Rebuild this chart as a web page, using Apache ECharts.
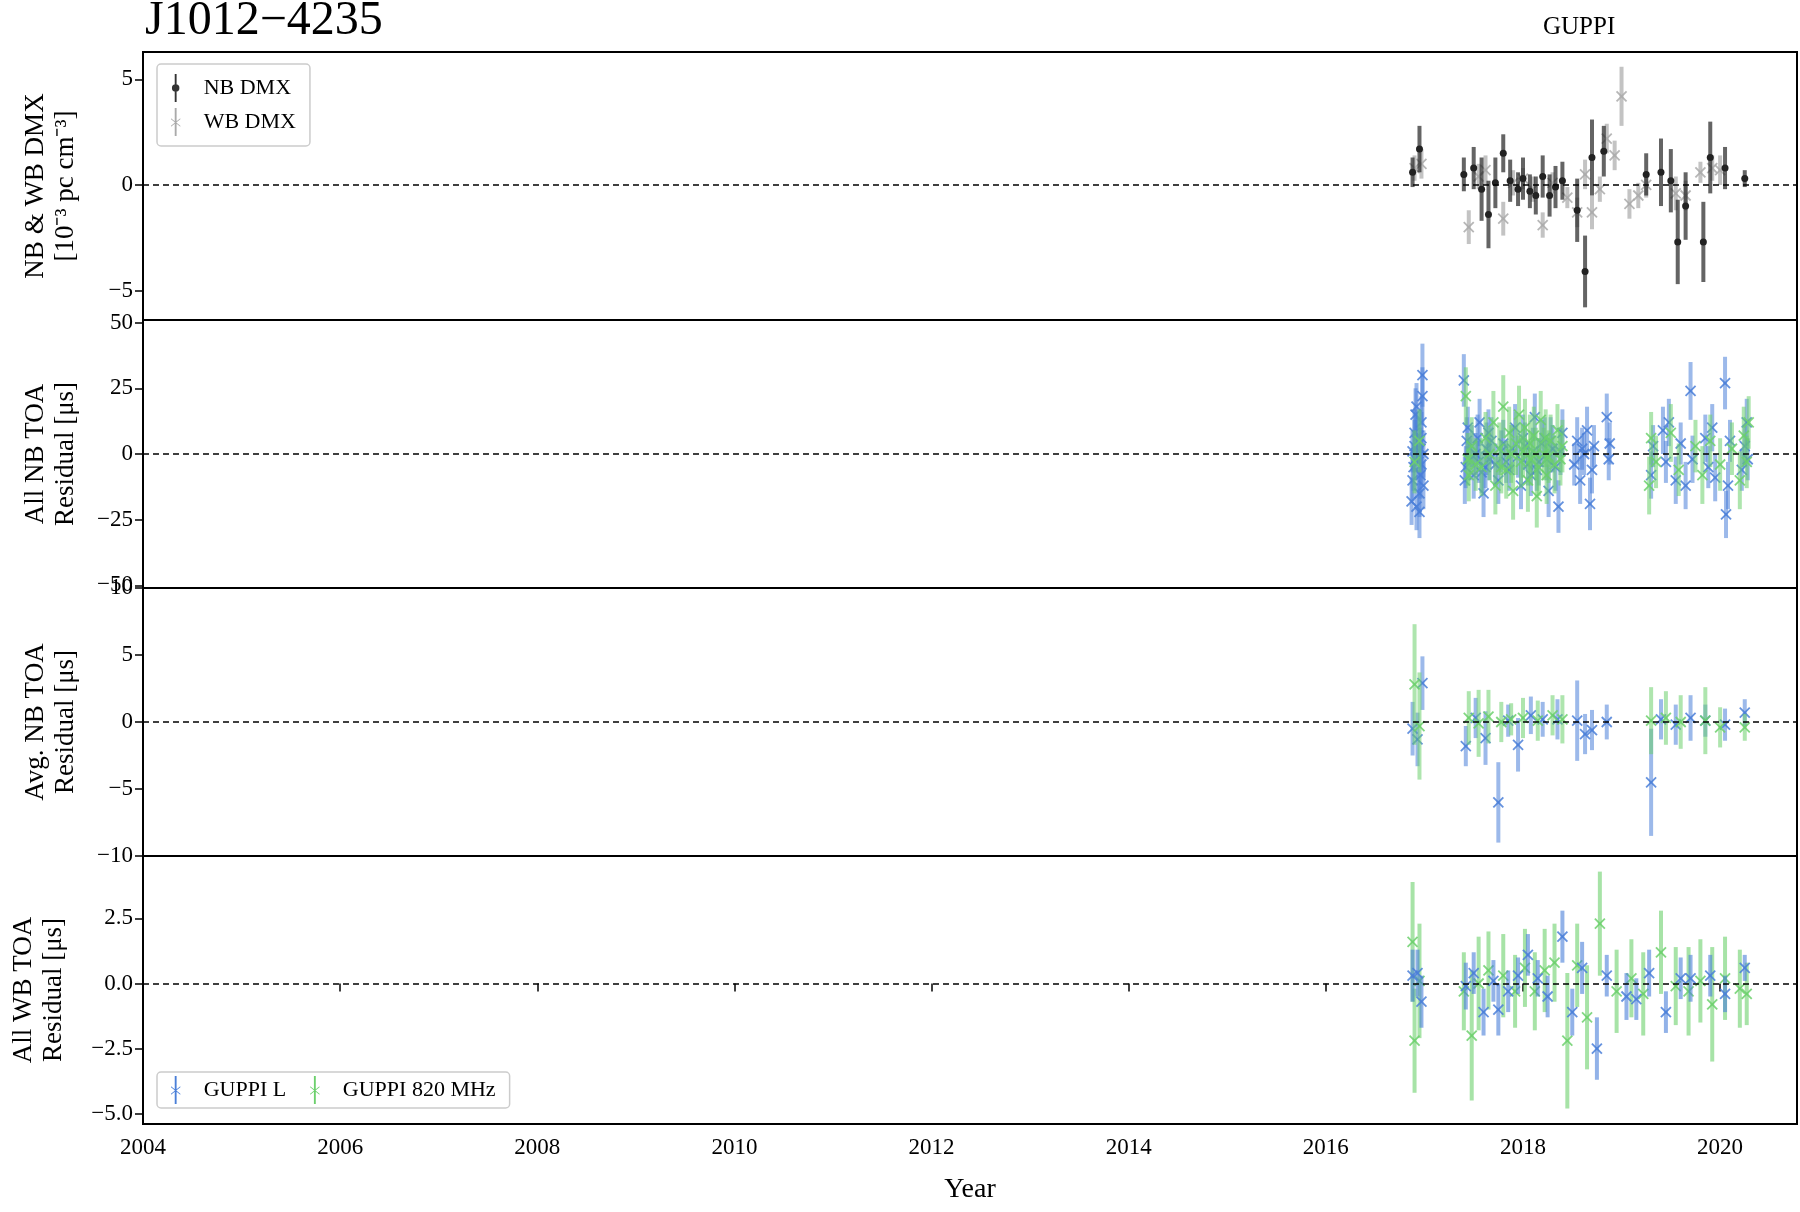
<!DOCTYPE html>
<html><head><meta charset="utf-8">
<script src="https://cdn.jsdelivr.net/npm/echarts@6/dist/echarts.min.js"></script>
<style>html,body{margin:0;padding:0;background:#fff}#c{width:1800px;height:1212px}</style>
</head><body><div id="c"></div>
<script>
// [year, value, error]
const nbDmx = [[2016.88,0.6,0.7],[2016.95,1.7,1.1],[2017.40,0.5,0.8],[2017.50,0.8,1.0],[2017.58,-0.2,1.5],[2017.65,-1.4,1.6],[2017.72,0.1,1.2],[2017.80,1.5,0.9],[2017.87,0.2,1.0],[2017.95,-0.2,0.8],[2018.00,0.3,1.0],[2018.07,-0.3,0.8],[2018.13,-0.5,0.9],[2018.20,0.4,1.0],[2018.27,-0.5,1.0],[2018.33,-0.1,1.0],[2018.40,0.2,0.9],[2018.55,-1.2,1.5],[2018.63,-4.1,1.7],[2018.70,1.3,1.8],[2018.82,1.6,1.2],[2019.25,0.5,1.0],[2019.40,0.6,1.6],[2019.50,0.2,1.5],[2019.57,-2.7,2.0],[2019.65,-1.0,1.6],[2019.83,-2.7,1.9],[2019.90,1.3,1.7],[2020.05,0.8,1.0],[2020.25,0.3,0.4]];
const wbDmx = [[2016.90,0.8,0.6],[2016.97,1.0,0.7],[2017.45,-2.0,0.8],[2017.55,0.4,0.6],[2017.62,0.7,0.7],[2017.80,-1.6,0.8],[2017.90,0.1,0.6],[2018.00,0.3,0.5],[2018.10,-0.2,0.6],[2018.20,-1.9,0.6],[2018.30,0.1,0.5],[2018.45,-0.6,0.5],[2018.55,-1.3,0.7],[2018.63,0.5,0.7],[2018.70,-1.3,0.8],[2018.78,-0.2,0.6],[2018.85,2.2,0.7],[2018.93,1.4,0.7],[2019.00,4.2,1.4],[2019.08,-0.9,0.7],[2019.17,-0.5,0.6],[2019.25,0.0,0.6],[2019.55,-0.4,0.8],[2019.65,-0.5,0.7],[2019.80,0.6,0.5],[2019.92,0.8,0.6],[2020.00,0.7,0.7]];
const nbAllL = [[2016.87,-18,9],[2016.88,-10,8],[2016.89,-5,9],[2016.90,3,10],[2016.90,8,9],[2016.91,15,10],[2016.92,18,9],[2016.92,-20,9],[2016.93,5,8],[2016.94,-3,9],[2016.95,-22,10],[2016.95,-15,9],[2016.96,-8,9],[2016.96,2,8],[2016.97,6,10],[2016.97,12,10],[2016.98,22,11],[2016.98,30,12],[2016.99,-12,9],[2016.99,0,9],[2016.88,1,8],[2016.91,-2,8],[2016.94,7,9],[2016.97,-4,8],
[2017.40,28,10],[2017.41,-10,9],[2017.42,-5,8],[2017.43,5,9],[2017.44,10,8],[2017.46,-2,8],[2017.48,3,8],[2017.50,-8,9],[2017.52,0,8],[2017.54,6,9],[2017.55,-3,8],[2017.56,12,9],[2017.58,-7,8],[2017.60,-15,9],[2017.62,-5,8],[2017.63,2,10],[2017.65,8,9],[2017.66,-2,8],[2017.68,5,9],[2017.72,-4,8],[2017.75,-10,9],[2017.78,1,8],[2017.80,4,9],[2017.83,-3,8],[2017.86,-6,8],[2017.89,2,9],[2017.92,10,9],[2017.95,-1,8],[2017.98,-12,9],[2018.00,6,9],[2018.02,3,9],[2018.05,-4,8],[2018.08,-8,8],[2018.10,1,9],[2018.12,14,9],[2018.14,-6,8],[2018.16,-3,9],[2018.19,4,9],[2018.22,6,8],[2018.24,-2,8],[2018.26,-14,10],[2018.28,5,9],[2018.30,2,9],[2018.33,-5,9],[2018.36,-20,10],[2018.38,1,9],[2018.40,8,9],
[2018.52,-4,8],[2018.55,5,9],[2018.58,-10,9],[2018.60,2,8],[2018.62,0,8],[2018.65,9,9],[2018.68,-19,10],[2018.70,-6,9],[2018.72,3,8],[2018.85,14,9],[2018.87,-2,8],[2018.88,4,8],
[2019.30,-8,9],[2019.32,3,8],[2019.42,9,9],[2019.45,-3,8],[2019.48,12,9],[2019.55,-10,9],[2019.60,4,8],[2019.65,-12,9],[2019.70,24,11],[2019.72,-2,9],[2019.85,6,9],[2019.88,-5,8],[2019.92,10,9],[2019.95,-9,9],[2020.05,27,10],[2020.06,-23,9],[2020.08,-12,9],[2020.10,5,8],[2020.22,-6,8],[2020.25,3,8],[2020.27,12,9],[2020.28,-2,8]];
const nbAll8 = [[2016.90,-3,12],[2016.95,5,12],[2017.42,22,11],[2017.44,-2,10],[2017.45,-8,10],[2017.48,3,11],[2017.52,-4,10],[2017.58,-5,11],[2017.62,6,10],[2017.66,0,10],[2017.70,12,12],[2017.72,-12,11],[2017.76,2,10],[2017.78,-5,10],[2017.80,18,12],[2017.83,-6,11],[2017.86,8,10],[2017.88,0,11],[2017.90,-14,11],[2017.93,4,12],[2017.96,15,11],[2017.98,-3,10],[2018.00,1,10],[2018.02,10,11],[2018.05,-10,12],[2018.07,4,11],[2018.08,-2,10],[2018.11,7,11],[2018.13,0,10],[2018.14,-16,12],[2018.16,-5,11],[2018.18,13,11],[2018.21,0,10],[2018.23,6,11],[2018.24,-8,11],[2018.26,-1,10],[2018.28,5,10],[2018.32,-4,11],[2018.35,9,10],[2018.38,-2,10],[2018.40,3,10],
[2019.28,-12,11],[2019.30,6,10],[2019.35,-3,10],[2019.50,8,11],[2019.58,-6,10],[2019.75,3,10],[2019.82,-8,11],[2019.90,5,10],[2020.00,-4,10],[2020.12,2,10],[2020.20,-10,11],[2020.24,7,11],[2020.27,-3,10],[2020.29,12,10]];
const avgL = [[2016.88,-0.5,2],[2016.93,-1.3,2],[2016.98,2.9,2],[2017.42,-1.8,1.5],[2017.52,0.3,1.5],[2017.62,-1.2,2],[2017.75,-6.0,3],[2017.85,0.1,1.2],[2017.95,-1.7,2],[2018.08,0.5,1.4],[2018.20,0.2,1.3],[2018.35,0.2,1.5],[2018.55,0.1,3],[2018.63,-0.9,1.5],[2018.70,-0.6,1.5],[2018.85,0.0,1.3],[2019.30,-4.5,4],[2019.40,0.2,1.5],[2019.55,-0.2,1.5],[2019.70,0.3,1.7],[2019.85,0.1,1.2],[2020.05,-0.2,1.2],[2020.25,0.7,1.0]];
const avg8 = [[2016.90,2.8,4.5],[2016.95,-0.3,4],[2017.45,0.3,2],[2017.55,-0.1,2.5],[2017.65,0.4,2],[2017.78,0.0,1.5],[2017.88,0.2,1.2],[2018.00,0.3,1.5],[2018.15,0.1,1.5],[2018.30,0.5,1.5],[2018.40,0.2,1.8],[2019.30,0.1,2.5],[2019.45,0.3,2],[2019.60,0.0,2],[2019.85,0.1,2.5],[2020.00,-0.4,1.5],[2020.25,-0.4,1.0]];
const wbL = [[2016.88,0.3,1.0],[2016.93,0.4,0.9],[2016.97,-0.7,1.0],[2017.42,-0.1,0.9],[2017.50,0.4,0.8],[2017.60,-1.1,0.9],[2017.70,0.1,0.8],[2017.75,-1.0,1.0],[2017.85,-0.3,0.8],[2017.95,0.3,0.7],[2018.05,1.1,0.8],[2018.15,0.2,0.7],[2018.25,-0.5,0.8],[2018.40,1.8,1.0],[2018.50,-1.1,0.9],[2018.60,0.6,1.0],[2018.75,-2.5,1.2],[2018.85,0.3,0.8],[2019.05,-0.5,0.9],[2019.15,-0.6,0.8],[2019.28,0.4,0.9],[2019.45,-1.1,0.8],[2019.60,0.2,0.8],[2019.70,0.2,0.9],[2019.90,0.3,0.8],[2020.05,-0.4,0.7],[2020.25,0.6,0.5]];
const wb8 = [[2016.88,1.6,2.3],[2016.90,-2.2,2.0],[2016.95,0.1,2.2],[2017.40,-0.3,1.5],[2017.48,-2.0,2.5],[2017.55,0.0,1.8],[2017.65,0.5,1.5],[2017.80,0.3,1.6],[2017.92,-0.3,1.4],[2018.02,0.6,1.5],[2018.12,-0.3,1.5],[2018.22,0.5,1.6],[2018.32,0.8,1.5],[2018.45,-2.2,2.6],[2018.55,0.7,1.6],[2018.65,-1.3,2.0],[2018.78,2.3,2.0],[2018.95,-0.3,1.6],[2019.10,0.2,1.5],[2019.22,-0.4,1.6],[2019.40,1.2,1.6],[2019.55,-0.1,1.5],[2019.68,-0.3,1.7],[2019.80,0.1,1.6],[2019.92,-0.8,2.2],[2020.05,0.2,1.6],[2020.20,-0.2,1.5],[2020.27,-0.4,1.2]];
const xTicks = [2004,2006,2008,2010,2012,2014,2016,2018,2020];
const yTicks = [[-5,0,5],[-50,-25,0,25,50],[-10,-5,0,5,10],[-5,-2.5,0,2.5]];
const yRanges = [[-6.4,6.3],[-51,51],[-10,10],[-5.4,4.9]];

const BLUE='#4a7fd8', GREEN='#6cd06c', BLACK='#222', GRAY='#aaaaaa';
const FONT='Liberation Serif';
const tops=[52,320,588,856], H=268;
const grids=tops.map(t=>({left:143,right:3,top:t,height:H,show:true,borderColor:'#000',borderWidth:2,backgroundColor:'transparent'}));
const xAxes=tops.map((t,i)=>({type:'value',gridIndex:i,min:2004,max:2020.78,show:i===3,
  axisLine:{show:false},splitLine:{show:false},
  axisTick:{show:i===3,customValues:xTicks,length:8,lineStyle:{color:'#000',width:1.5}},
  axisLabel:{show:i===3,customValues:xTicks,formatter:v=>String(v),fontFamily:FONT,fontSize:23,color:'#000',margin:12},
  name:i===3?'Year':'',nameLocation:'middle',nameGap:52,nameTextStyle:{fontFamily:FONT,fontSize:28,color:'#000'}}));
const names=['NB & WB DMX\n[10⁻³ pc cm⁻³]','All NB TOA\nResidual [μs]','Avg. NB TOA\nResidual [μs]','All WB TOA\nResidual [μs]'];
const fmt=v=>String(v).replace('-','−');
const fmt4=v=>v.toFixed(1).replace('-','−');
const yAxes=tops.map((t,i)=>({type:'value',gridIndex:i,min:yRanges[i][0],max:yRanges[i][1],
  axisLine:{show:false},splitLine:{show:false},
  axisTick:{show:true,customValues:yTicks[i],length:8,lineStyle:{color:'#000',width:1.5}},
  axisLabel:{customValues:yTicks[i],fontFamily:FONT,fontSize:23,color:'#000',formatter:i===3?fmt4:fmt,margin:10},
  name:names[i],nameLocation:'middle',nameGap:i===3?74:62,nameTextStyle:{fontFamily:FONT,fontSize:27,color:'#000',lineHeight:30}}));

function errSeries(name,data,gi,color,marker,alpha){
  return {type:'custom',name,xAxisIndex:gi,yAxisIndex:gi,data,
    renderItem:(params,api)=>{
      const x=api.value(0),y=api.value(1),e=api.value(2);
      const p=api.coord([x,y]),a=api.coord([x,y+e]),b=api.coord([x,y-e]);
      const ch=[{type:'line',shape:{x1:p[0],y1:a[1],x2:p[0],y2:b[1]},style:{stroke:color,lineWidth:4,opacity:alpha}}];
      if(marker==='dot') ch.push({type:'circle',shape:{cx:p[0],cy:p[1],r:3.5},style:{fill:color}});
      else {const s=5;ch.push({type:'line',shape:{x1:p[0]-s,y1:p[1]-s,x2:p[0]+s,y2:p[1]+s},style:{stroke:color,lineWidth:1.8,opacity:0.85}});
        ch.push({type:'line',shape:{x1:p[0]-s,y1:p[1]+s,x2:p[0]+s,y2:p[1]-s},style:{stroke:color,lineWidth:1.8,opacity:0.85}});}
      return {type:'group',children:ch};
    },
    encode:{x:0,y:1},z:3};
}
const zeroLine=gi=>({type:'line',xAxisIndex:gi,yAxisIndex:gi,data:[],silent:true,
  markLine:{silent:true,symbol:'none',label:{show:false},lineStyle:{color:'#000',type:[6,4],width:1.5},data:[{yAxis:0}]}});
const errIcon='path://M4,0L6,0L6,30L4,30Z M0,11L10,19L10,20L0,12Z M0,19L10,11L10,12L0,20Z';
const dotIcon='path://M4,0L6,0L6,30L4,30Z M5,11A4,4 0 1 1 5,19A4,4 0 1 1 5,11Z';
const series=[
  zeroLine(0),zeroLine(1),zeroLine(2),zeroLine(3),
  errSeries('WB DMX',wbDmx,0,GRAY,'x',0.7),
  errSeries('NB DMX',nbDmx,0,BLACK,'dot',0.7),
  errSeries('GUPPI L',nbAllL,1,BLUE,'x',0.55),
  errSeries('GUPPI 820 MHz',nbAll8,1,GREEN,'x',0.55),
  errSeries('GUPPI L',avgL,2,BLUE,'x',0.55),
  errSeries('GUPPI 820 MHz',avg8,2,GREEN,'x',0.55),
  errSeries('GUPPI 820 MHz',wb8,3,GREEN,'x',0.6),
  errSeries('GUPPI L',wbL,3,BLUE,'x',0.6)
];
const legBase={backgroundColor:'#fff',borderColor:'#ccc',borderWidth:1.5,borderRadius:4,padding:[10,14],itemWidth:10,itemHeight:28,textStyle:{fontFamily:FONT,fontSize:22,color:'#000',padding:[0,0,0,18]}};
const chart=echarts.init(document.getElementById('c'),null,{renderer:'canvas'});
chart.setOption({animation:false,backgroundColor:'#fff',
  title:[{text:'J1012−4235',left:140,top:-8,textStyle:{fontFamily:FONT,fontSize:48,fontWeight:'normal',color:'#000'}},
         {text:'GUPPI',left:1538,top:10,textStyle:{fontFamily:FONT,fontSize:25,fontWeight:'normal',color:'#000'}}],
  grid:grids,xAxis:xAxes,yAxis:yAxes,series,
  legend:[Object.assign({},legBase,{left:157,top:64,orient:'vertical',itemGap:6,
      data:[{name:'NB DMX',icon:dotIcon,itemStyle:{color:'#333'}},{name:'WB DMX',icon:errIcon,itemStyle:{color:GRAY}}]}),
    Object.assign({},legBase,{left:157,top:1072,orient:'horizontal',itemGap:24,padding:[4,14],
      data:[{name:'GUPPI L',icon:errIcon,itemStyle:{color:BLUE}},{name:'GUPPI 820 MHz',icon:errIcon,itemStyle:{color:GREEN}}]})]
});
</script></body></html>
